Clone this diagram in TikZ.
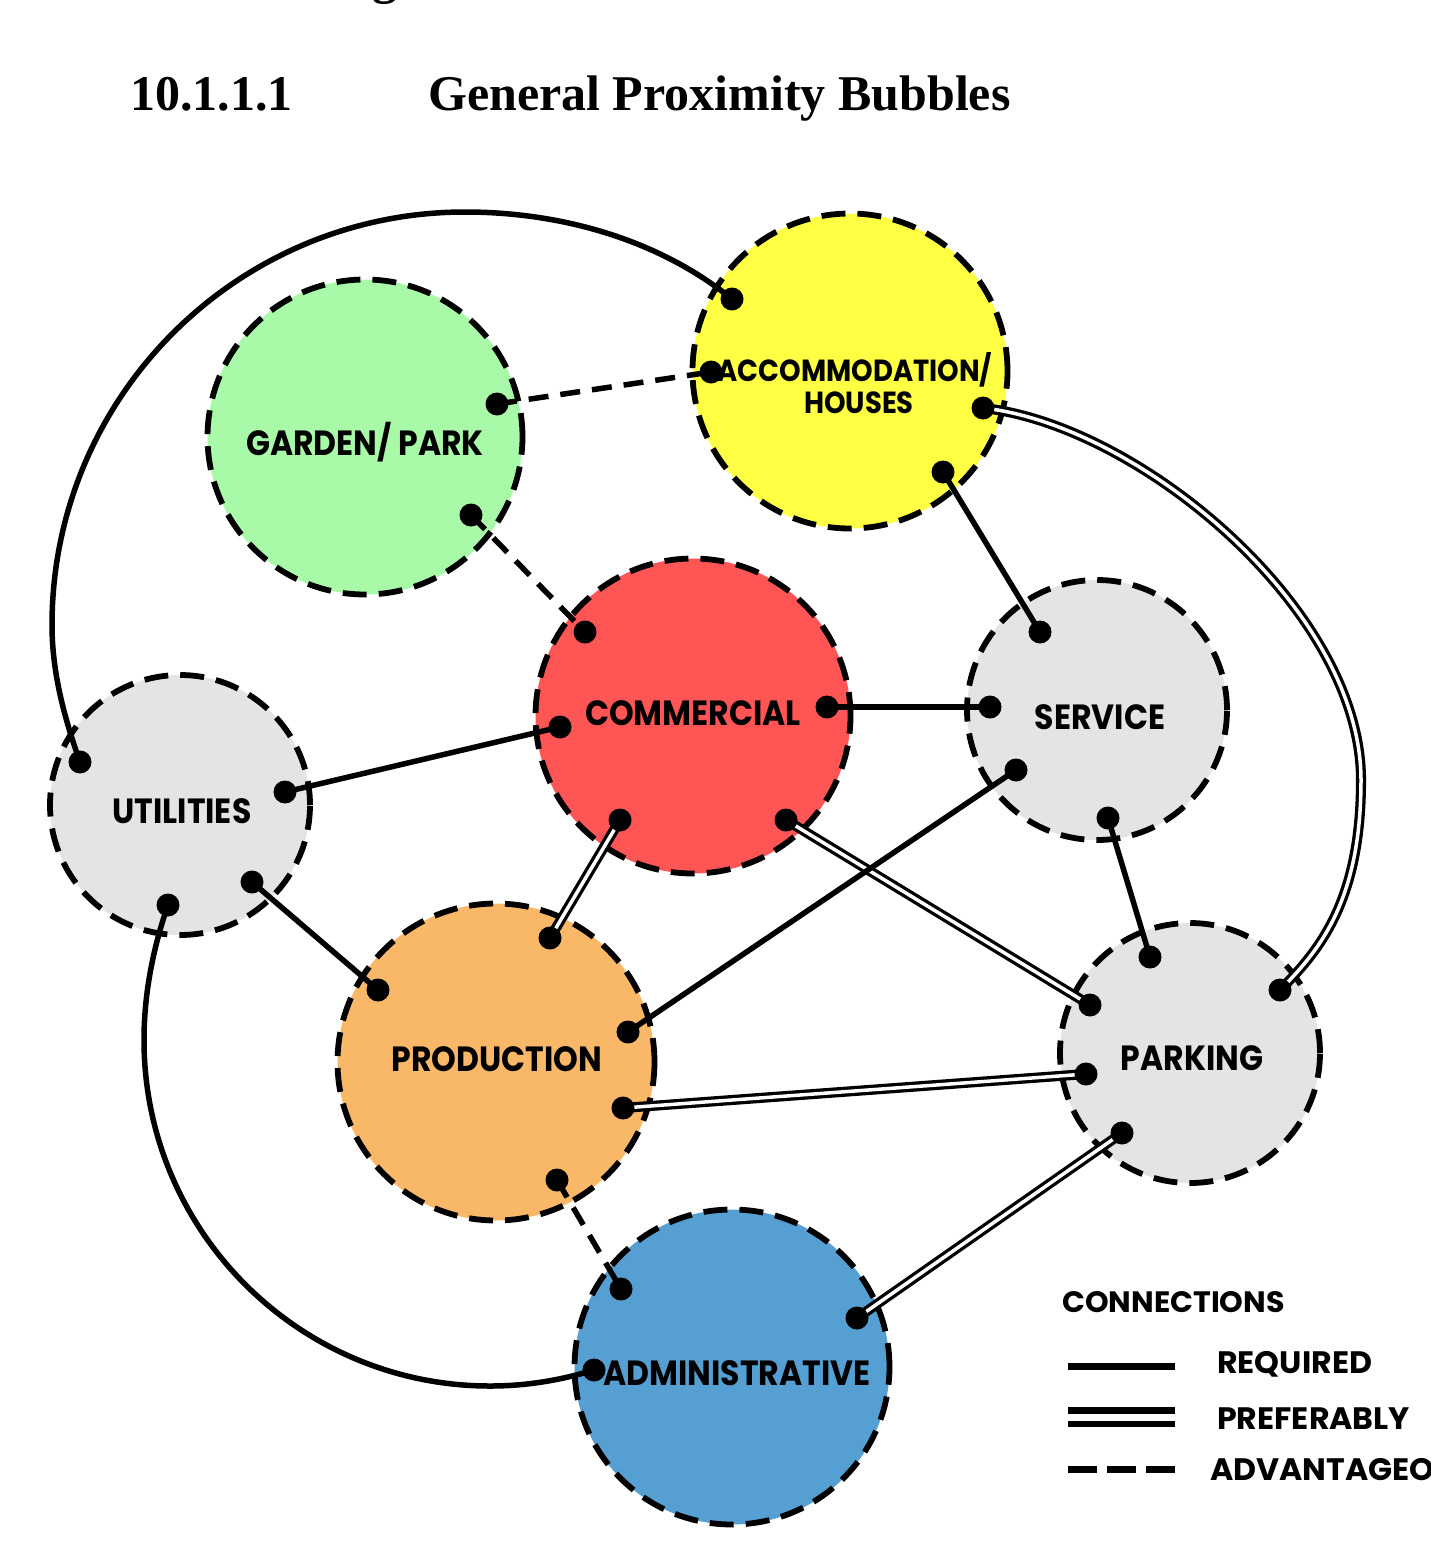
\documentclass[tikz,border=0pt]{standalone}
\usepackage{fontspec}
\setmainfont{Liberation Serif}
\newfontfamily\lblfont{Poppins}[FakeStretch=0.9]
\newfontfamily\lgdfont{Poppins}[FakeStretch=1.02]
\pgfdeclarelayer{bg}\pgfdeclarelayer{fg}\pgfsetlayers{bg,main,fg}
\definecolor{cgreen}{RGB}{168,250,168}
\definecolor{cyellow}{RGB}{255,255,68}
\definecolor{cred}{RGB}{255,85,85}
\definecolor{cgray}{RGB}{228,228,228}
\definecolor{corange}{RGB}{248,184,104}
\definecolor{cblue}{RGB}{85,159,211}
\begin{document}
\begin{tikzpicture}[x=1pt,y=-1pt,
 bubble/.style={circle, draw=black, line width=5.8pt, dash pattern=on 24pt off 12pt, inner sep=0pt},
 dotn/.style={circle, fill=black, inner sep=0pt, minimum size=23pt},
 lbl/.style={font=\lblfont\bfseries\fontsize{35}{38}\selectfont, inner sep=0pt},
 lgd/.style={font=\lgdfont\bfseries\fontsize{31}{34}\selectfont, inner sep=0pt, anchor=west},
 req/.style={line width=5.5pt},
 pref/.style={double=white, double distance=3.5pt, line width=3.3pt},
 adv/.style={line width=5.5pt, dash pattern=on 20pt off 12pt},
 head/.style={font=\bfseries\fontsize{50}{60}\selectfont, anchor=base west, inner sep=0pt}
]
\useasboundingbox (0,0) rectangle (1431,1542);
% heading
\node[head] (hprev) at (372,-7) {g};
\node[head] (hnum) at (130,110) {10.1.1.1};
\node[head] (htitle) at (428,110) {General Proximity Bubbles};

% bubbles
\begin{pgfonlayer}{bg}
\node[bubble, fill=cgreen, minimum size=315pt] (garden) at (365,437) {};
\node[bubble, fill=cyellow, minimum size=315pt] (accom) at (850,371) {};
\node[bubble, fill=cred, minimum size=315pt] (comm) at (693,716) {};
\node[bubble, fill=cgray, minimum size=260pt] (serv) at (1097,710) {};
\node[bubble, fill=cgray, minimum size=260pt] (util) at (180,805) {};
\node[bubble, fill=corange, minimum size=317pt] (prod) at (496,1062) {};
\node[bubble, fill=cgray, minimum size=260pt] (park) at (1190,1053) {};
\node[bubble, fill=cblue, minimum size=315pt] (admin) at (732,1367) {};
\end{pgfonlayer}

% dots and labels
\begin{pgfonlayer}{fg}
\node[dotn] (acc1) at (732,299) {};
\node[dotn] (acc2) at (711,372) {};
\node[dotn] (acc3) at (983,408) {};
\node[dotn] (acc4) at (943,472) {};
\node[dotn] (gar1) at (497,404) {};
\node[dotn] (gar2) at (471,515) {};
\node[dotn] (com1) at (585,632) {};
\node[dotn] (com2) at (827,707) {};
\node[dotn] (com3) at (560,727) {};
\node[dotn] (com4) at (620,820) {};
\node[dotn] (com5) at (786,820) {};
\node[dotn] (ser1) at (1040,632) {};
\node[dotn] (ser2) at (990,707) {};
\node[dotn] (ser3) at (1016,770) {};
\node[dotn] (ser4) at (1108,818) {};
\node[dotn] (uti1) at (80,762) {};
\node[dotn] (uti2) at (285,792) {};
\node[dotn] (uti3) at (252,882) {};
\node[dotn] (uti4) at (168,905) {};
\node[dotn] (pro1) at (550,938) {};
\node[dotn] (pro2) at (378,990) {};
\node[dotn] (pro3) at (628,1032) {};
\node[dotn] (pro4) at (623,1108) {};
\node[dotn] (pro5) at (557,1180) {};
\node[dotn] (par1) at (1150,957) {};
\node[dotn] (par2) at (1280,990) {};
\node[dotn] (par3) at (1090,1005) {};
\node[dotn] (par4) at (1086,1074) {};
\node[dotn] (par5) at (1122,1133) {};
\node[dotn] (adm1) at (621,1289) {};
\node[dotn] (adm2) at (857,1318) {};
\node[dotn] (adm3) at (594,1370) {};

\node[lbl] (lgar) at (365,442) {GARDEN/ PARK};
\node[lbl, font=\lblfont\bfseries\fontsize{30.5}{33}\selectfont] (lacc1) at (855,370) {ACCOMMODATION/};
\node[lbl, font=\lblfont\bfseries\fontsize{30.5}{33}\selectfont] (lacc2) at (859,403) {HOUSES};
\node[lbl] (lcom) at (693,713) {COMMERCIAL};
\node[lbl] (lser) at (1100,717) {SERVICE};
\node[lbl] (luti) at (182,811) {UTILITIES};
\node[lbl] (lpro) at (497,1059) {PRODUCTION};
\node[lbl] (lpar) at (1192,1058) {PARKING};
\node[lbl] (ladm) at (737,1373) {ADMINISTRATIVE};
\end{pgfonlayer}

% connectors
\draw[pref] (acc3.center) .. controls (1140,425) and (1361,610) .. (1361,780) .. controls (1361,900) and (1320,950) .. (par2.center);
\draw[pref] (com4.center) -- (pro1.center);
\draw[pref] (com5.center) -- (par3.center);
\draw[pref] (pro4.center) -- (par4.center);
\draw[pref] (adm2.center) -- (par5.center);
\draw[req] (acc1.center) .. controls (658,239) and (560,212) .. (465,212) .. controls (237,212) and (52,397) .. (52,625) .. controls (52,672) and (64,717) .. (uti1.center);
\draw[adv] (gar1.center) -- (acc2.center);
\draw[req] (acc4.center) -- (ser1.center);
\draw[adv] (gar2.center) -- (com1.center);
\draw[req] (com2.center) -- (ser2.center);
\draw[req] (uti2.center) -- (com3.center);
\draw[req] (ser3.center) -- (pro3.center);
\draw[req] (ser4.center) -- (par1.center);
\draw[req] (uti3.center) -- (pro2.center);
\draw[req] (uti4.center) .. controls (153,948) and (144,994) .. (144,1040) .. controls (144,1231) and (299,1386) .. (490,1386) .. controls (524,1386) and (558,1381) .. (adm3.center);
\draw[adv] (pro5.center) -- (adm1.center);

% legend
\node[lgd, font=\lgdfont\bfseries\fontsize{29.5}{31}\selectfont] (lgtitle) at (1062,1302) {CONNECTIONS};
\coordinate (lr1) at (1068,1366);
\coordinate (lr2) at (1175,1366);
\coordinate (lp1) at (1068,1417);
\coordinate (lp2) at (1175,1417);
\coordinate (la1) at (1068,1469);
\coordinate (la2) at (1175,1469);
\draw[line width=7pt] (lr1) -- (lr2);
\draw[line width=6.5pt, double=white, double distance=7pt] (lp1) -- (lp2);
\draw[line width=7pt, dash pattern=on 29pt off 10pt] (la1) -- (la2);
\node[lgd] (lgreq) at (1217,1364) {REQUIRED};
\node[lgd] (lgpref) at (1217,1419) {PREFERABLY};
\node[lgd] (lgadv) at (1210,1470) {ADVANTAGEOUS};
\end{tikzpicture}
\end{document}
